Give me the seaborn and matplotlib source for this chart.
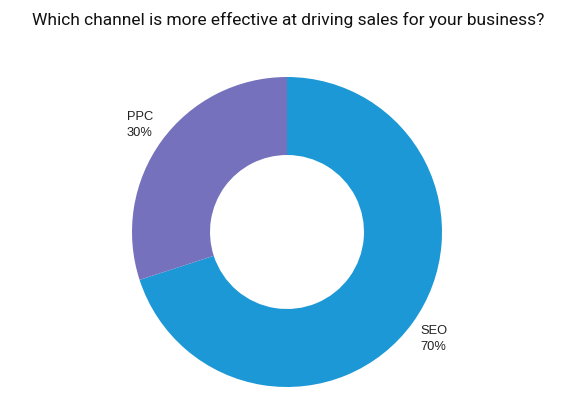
import matplotlib
matplotlib.use("Agg")
import matplotlib.pyplot as plt
import seaborn as sns

categories = ["SEO", "PPC"]
values = [70, 30]
colors = ["#1d98d6", "#7571bd"]
title = "Which channel is more effective at driving sales for your business?"

sns.set_theme(style="white")
plt.rcParams["font.family"] = ["Liberation Sans", "DejaVu Sans"]

fig = plt.figure(figsize=(5.76, 4.0), dpi=100)
ax = fig.add_axes([0, 0, 1, 1])

labels = [f"{c}\n{v}%" for c, v in zip(categories, values)]
wedges, texts = ax.pie(values, labels=labels, colors=colors, startangle=90,
                       counterclock=False, center=(287, 168), radius=155,
                       labeldistance=1.175,
                       wedgeprops=dict(width=78, linewidth=0),
                       textprops=dict(fontsize=9.3, color="#222222"))
for t in texts:
    t.set_ha("center")
    t.set_va("center")
    t.set_multialignment("left")
    t.set_linespacing(1.45)

ax.set_xlim(0, 576)
ax.set_ylim(0, 400)
ax.set_aspect("equal")
ax.axis("off")

fig.text(0.5, 1 - 20 / 400, title, ha="center", va="center",
         fontsize=12.5, family="Roboto", color="#111111")

fig.savefig("out.png", dpi=100)
